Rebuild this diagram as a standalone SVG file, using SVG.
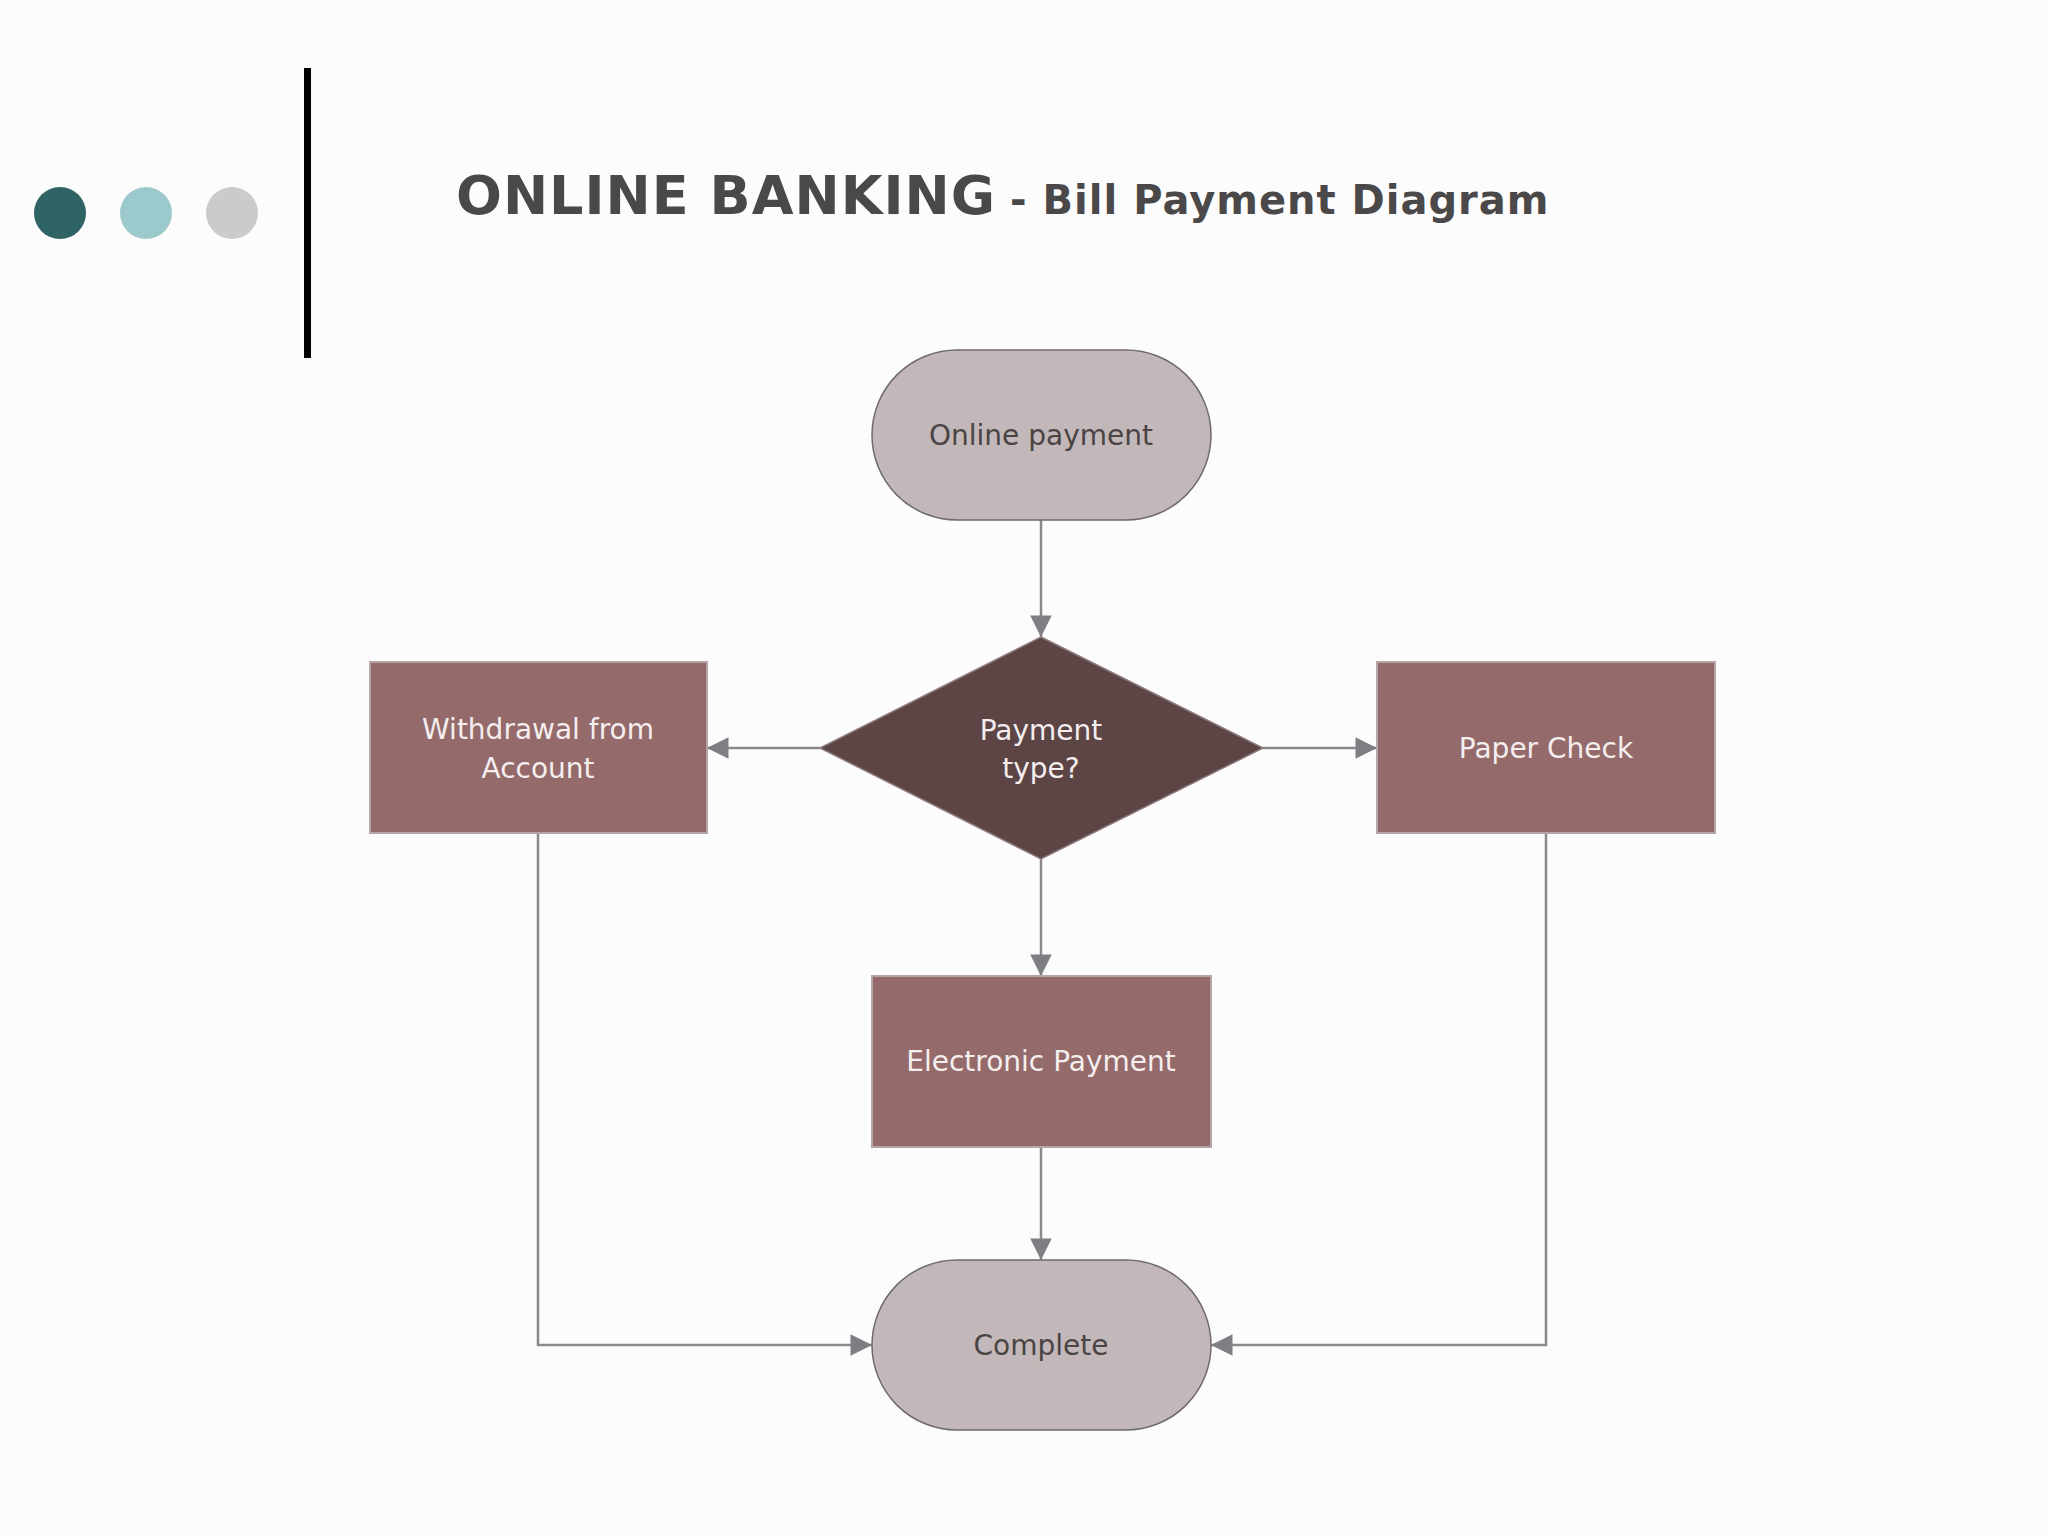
<svg xmlns="http://www.w3.org/2000/svg" width="2048" height="1536" viewBox="0 0 2048 1536">
<style>
text{font-family:"DejaVu Sans","Liberation Sans",sans-serif;text-anchor:middle}
.t{fill:#4a4848;font-weight:bold}
.term{fill:#c3b8b9;stroke:#6f6a6a;stroke-width:1.5}
.proc{fill:#956a6b;stroke:#b5a5a6;stroke-width:2}
.lbl{font-size:28px;fill:#f4eeee}
.dl{font-size:28px;fill:#4a4444}
.c{fill:none;stroke:#8a8a8e;stroke-width:2.5}
</style>
<defs>
<marker id="a" viewBox="0 0 10 10" refX="10" refY="5" markerWidth="9" markerHeight="9" markerUnits="userSpaceOnUse" orient="auto" style="overflow:visible"><path d="M0,0 L10,5 L0,10 z" fill="#7e7e84" transform="scale(2.4) translate(-5.8,-2.9)"/></marker>
</defs>
<rect width="2048" height="1536" fill="#fdfcfd"/>
<g id="decor">
<circle cx="60" cy="213" r="26" fill="#2f6364"/>
<circle cx="146" cy="213" r="26" fill="#9ccacc"/>
<circle cx="232" cy="213" r="26" fill="#cbcbcd"/>
<rect x="304" y="68" width="7" height="290" fill="#000"/>
<text x="456" y="214" class="t" style="text-anchor:start;font-size:54px;letter-spacing:1px">ONLINE BANKING<tspan font-size="40" dx="14">- Bill Payment Diagram</tspan></text>
</g>
<g id="connectors">
<path class="c" d="M1041,520 V637" marker-end="url(#a)"/>
<path class="c" d="M820,748 H707" marker-end="url(#a)"/>
<path class="c" d="M1263,748 H1377" marker-end="url(#a)"/>
<path class="c" d="M1041,859 V976" marker-end="url(#a)"/>
<path class="c" d="M1041,1147 V1260" marker-end="url(#a)"/>
<path class="c" d="M538,833 V1345 H872" marker-end="url(#a)"/>
<path class="c" d="M1546,833 V1345 H1211" marker-end="url(#a)"/>
</g>
<g id="online"><rect class="term" x="872" y="350" width="339" height="170" rx="85"/><text class="dl" x="1041" y="445">Online payment</text></g>
<g id="decision"><polygon points="1041,637 1263,748 1041,859 820,748" fill="#5d4546" stroke="#8a7a7a" stroke-width="1.5"/><text class="lbl" x="1041" y="740">Payment</text><text class="lbl" x="1041" y="778">type?</text></g>
<g id="withdrawal"><rect class="proc" x="370" y="662" width="337" height="171"/><text class="lbl" x="538" y="739">Withdrawal from</text><text class="lbl" x="538" y="778">Account</text></g>
<g id="paper"><rect class="proc" x="1377" y="662" width="338" height="171"/><text class="lbl" x="1546" y="758">Paper Check</text></g>
<g id="electronic"><rect class="proc" x="872" y="976" width="339" height="171"/><text class="lbl" x="1041" y="1071">Electronic Payment</text></g>
<g id="complete"><rect class="term" x="872" y="1260" width="339" height="170" rx="85"/><text class="dl" x="1041" y="1355">Complete</text></g>
</svg>
